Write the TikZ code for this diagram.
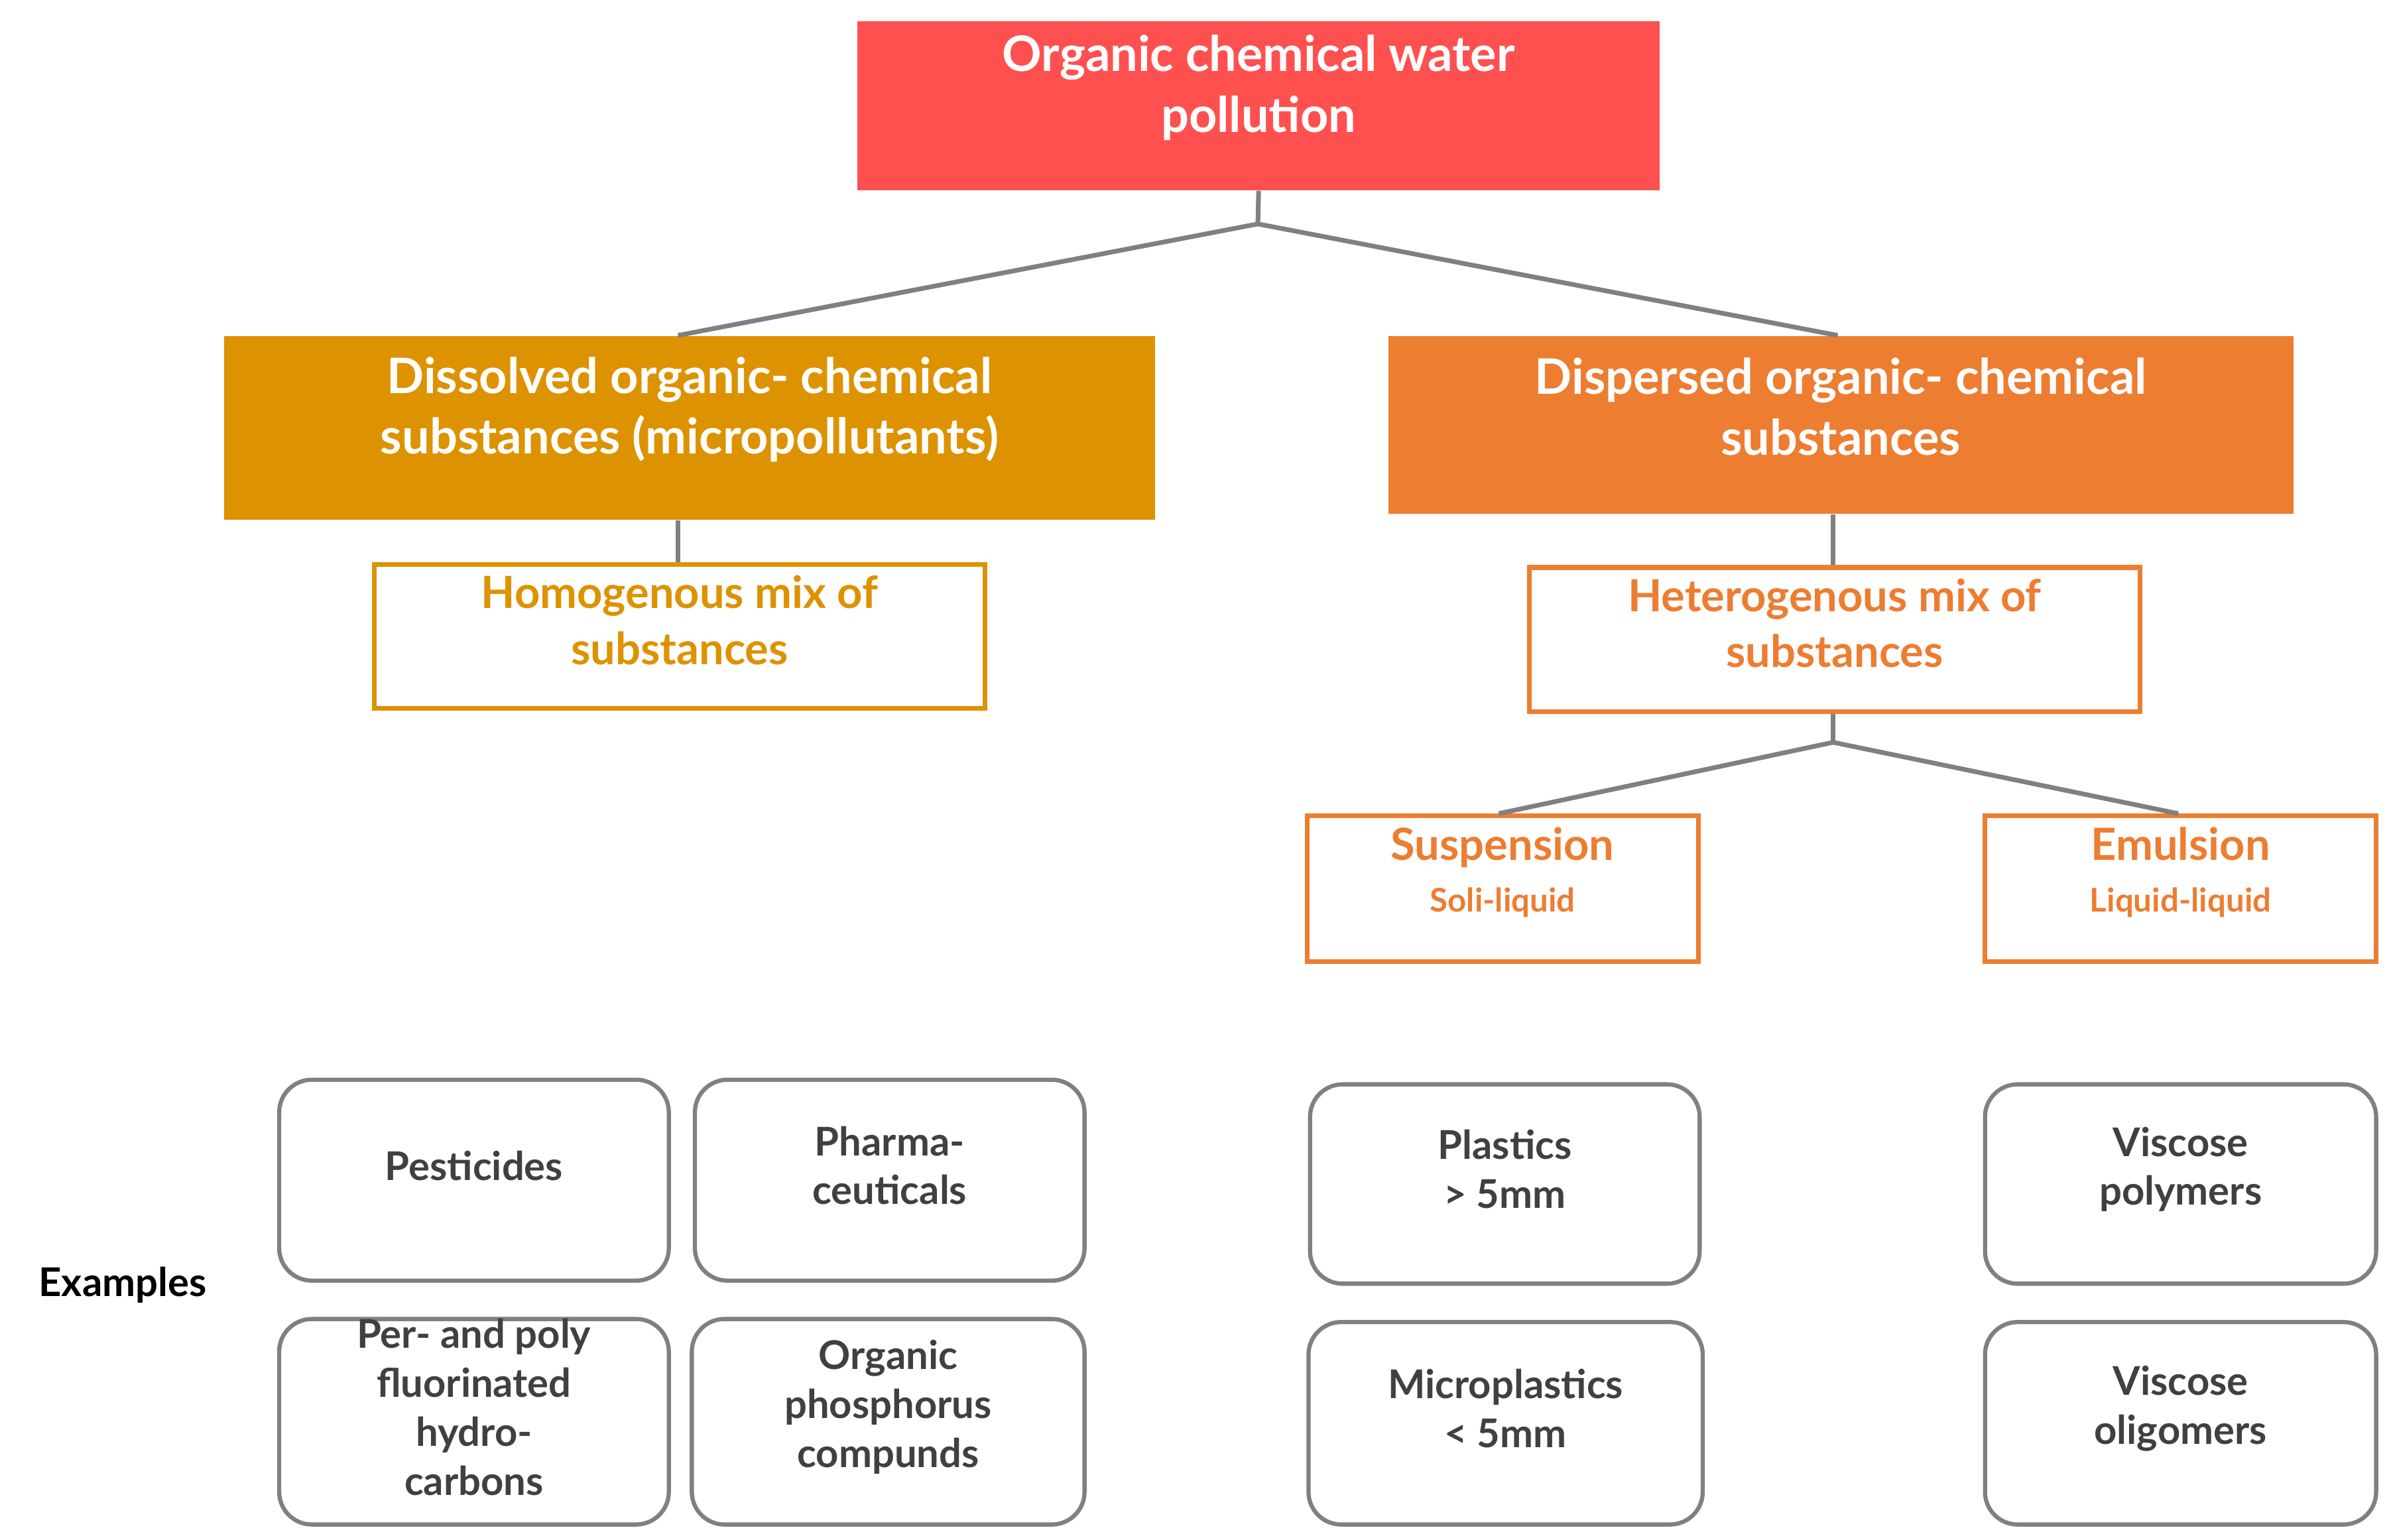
\documentclass[tikz,border=0pt]{standalone}
\usepackage{fontspec}
\setmainfont{Lato}
\usetikzlibrary{fit}
\definecolor{topred}{HTML}{FF5050}
\definecolor{gold}{HTML}{DD9200}
\definecolor{orng}{HTML}{ED7D31}
\definecolor{lgray}{HTML}{808080}
\definecolor{txtg}{HTML}{404040}
\tikzset{
  x=0.02313cm, y=-0.02313cm,
  base/.style={inner sep=0pt, align=center, font=\bfseries},
  head/.style={base, fill=#1, text=white, font=\bfseries\fontsize{21}{26}\selectfont},
  sub/.style={base, draw=#1, line width=2pt, text=#1, font=\bfseries\fontsize{19}{24}\selectfont},
  ex/.style={base, draw=lgray, line width=1.8pt, rounded corners=14pt, text=txtg, font=\bfseries\fontsize{17}{21}\selectfont},
  conn/.style={draw=lgray, line width=2pt},
  small/.style={font=\bfseries\fontsize{14}{17}\selectfont}
}
\begin{document}
\begin{tikzpicture}
\useasboundingbox (0,0) rectangle (1560,1004);
\node[head=topred, fit={(559,14)(1082,124)}] (top) {Organic chemical water\\pollution};
\node[head=gold, fit={(146,219)(753,339)}] (dis) {Dissolved organic- chemical\\substances (micropollutants)};
\node[head=orng, fit={(905,219)(1495,335)}] (dsp) {Dispersed organic- chemical\\substances};
\node[sub=gold, fit={(244,368)(642,462)}] (hom) {Homogenous mix of\\substances};
\node[sub=orng, fit={(997,370)(1395,464)}] (het) {Heterogenous mix of\\substances};
\node[sub=orng, fit={(852,532)(1107,627)}] (sus) {Suspension\\[-2pt]{\small\fontsize{14}{17}\selectfont Soli-liquid}};
\node[sub=orng, fit={(1294,532)(1549,627)}] (emu) {Emulsion\\[-2pt]{\fontsize{14}{17}\selectfont Liquid-liquid}};
\node[ex, fit={(182,704)(436,835)}] (pes) {Pesticides};
\node[ex, fit={(453,704)(707,835)}] (pha) {Pharma-\\ceuticals};
\node[ex, fit={(182,860)(436,994)}] (per) {Per- and poly\\fluorinated\\hydro-\\carbons};
\node[ex, fit={(451,860)(707,994)}] (org) {Organic\\phosphorus\\compunds};
\node[ex, fit={(854,707)(1108,837)}] (pla) {Plastics\\> 5mm};
\node[ex, fit={(853,862)(1110,994)}] (mic) {Microplastics\\< 5mm};
\node[ex, fit={(1294,707)(1549,837)}] (vpo) {Viscose\\polymers};
\node[ex, fit={(1294,862)(1549,994)}] (vol) {Viscose\\oligomers};
\node[base, font=\bfseries\fontsize{17}{21}\selectfont] (exl) at (80,838) {Examples};
\coordinate (j1) at (820,146);
\coordinate (j2) at (1195,484);
\draw[conn] (top.south) -- (j1);
\draw[conn] (j1) -- (dis.north -| 442,0);
\draw[conn] (j1) -- (dsp.north -| 1198,0);
\draw[conn] (dis.south -| 442,0) -- (hom.north -| 442,0);
\draw[conn] (dsp.south -| 1195,0) -- (het.north -| 1195,0);
\draw[conn] (het.south -| 1195,0) -- (j2);
\draw[conn] (j2) -- (sus.north -| 977,0);
\draw[conn] (j2) -- (emu.north -| 1420,0);
\end{tikzpicture}
\end{document}
